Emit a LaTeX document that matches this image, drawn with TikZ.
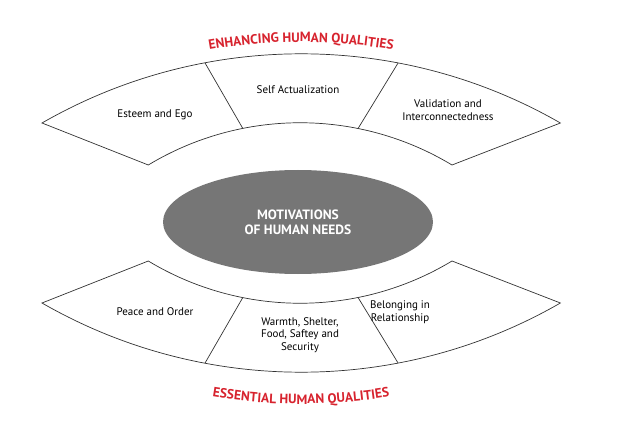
\documentclass[tikz,border=0pt]{standalone}
\usepackage{fontspec}
\setmainfont{PT Sans}
\usetikzlibrary{decorations.text, shapes.geometric}
\definecolor{titlered}{HTML}{D7232E}
\definecolor{hubgray}{HTML}{767676}
\tikzset{
    band/.style = {draw=black!80, fill=white, line width=0.7pt},
    need/.style = {align=center, font=\fontsize{11}{12.5}\selectfont, inner sep=0pt},
    hub/.style = {ellipse, fill=hubgray, text=white, font=\bfseries\fontsize{13.5}{15}\selectfont,
        align=center, minimum width=270pt, minimum height=104pt, inner sep=0pt},
    bandtitle/.style = {decorate, decoration={text along path, text align=center,
        text={|\bfseries\fontsize{13.5}{15}\selectfont\color{titlered}|#1}}}
}
\newcommand{\needband}{%
    \path[band] (42,309) arc[start angle=119.9, end angle=60.1, radius=520]
        -- (452,267) arc[start angle=58.9, end angle=121.1, radius=294] -- cycle;
    \draw[band] (205,369.1) -- (243,303.2);
    \draw[band] (398,368.9) -- (358,303.4);
}
\begin{document}
\begin{tikzpicture}[x=1pt, y=1pt]
    \useasboundingbox (0,0) rectangle (622,432);
    % upper band
    \needband
    % lower band, mirrored
    \begin{scope}[shift={(0,438)}, yscale=-1]
        \needband
    \end{scope}
    % centre ellipse
    \node[hub] (hub) at (298,210) {MOTIVATIONS\\OF HUMAN NEEDS};
    % labels of the upper band
    \node[need] (esteem) at (155,317) {Esteem and Ego};
    \node[need] (selfact) at (298,342) {Self Actualization};
    \node[need] (valid) at (448,322) {Validation and\\Interconnectedness};
    % labels of the lower band
    \node[need] (peace) at (155,120) {Peace and Order};
    \node[need] (warmth) at (300,97) {Warmth, Shelter,\\Food, Saftey and\\Security};
    \node[need] (belong) at (400,120) {Belonging in\\Relationship};
    % arched titles
    \path[bandtitle={ENHANCING HUMAN QUALITIES}]
        (301,-142) ++(112:532) arc[start angle=112, end angle=68, radius=532];
    \path[bandtitle={ESSENTIAL HUMAN QUALITIES}]
        (301,580) ++(248:552) arc[start angle=248, end angle=292, radius=552];
\end{tikzpicture}
\end{document}
